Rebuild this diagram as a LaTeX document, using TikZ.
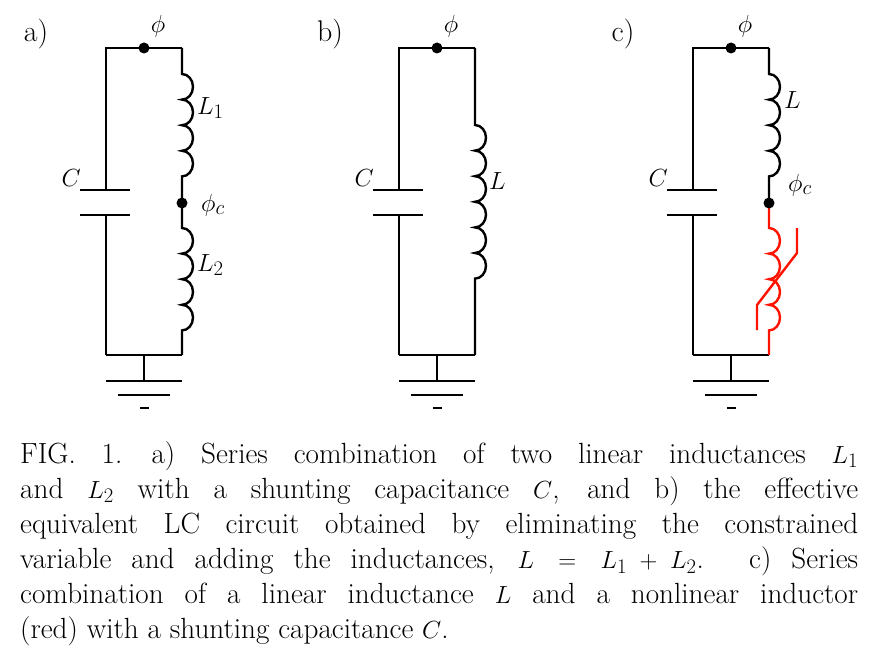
\documentclass[tikz,border=0pt]{standalone}
\begin{document}
\begin{tikzpicture}[x=1bp,y=-1bp,
  wire/.style={line width=2.4bp},
  dot/.style={circle,fill,inner sep=0pt,minimum size=11bp},
  lab/.style={font=\fontsize{30}{34}\selectfont,inner sep=1bp}]
\useasboundingbox (0,0) rectangle (872,668);
% generic circuit
\foreach \ox/\nm in {0/a,293/b,587/c}{
  \begin{scope}[xshift=\ox bp]
  \coordinate (tl\nm) at (106,48); \coordinate (tr\nm) at (182,48);
  \coordinate (bl\nm) at (106,355); \coordinate (br\nm) at (182,355);
  \coordinate (g\nm) at (144,355);
  \node[dot] (top\nm) at (144,48) {};
  \node[lab] (phi\nm) at (158,26) {$\phi$};
  \draw[wire] (bl\nm) -- (106,215) (106,190) -- (tl\nm) -- (tr\nm);
  \draw[wire] (80,190) -- (130,190) (80,215) -- (130,215);
  \node[lab,anchor=east] (C\nm) at (82,178) {$C$};
  \draw[wire] (bl\nm) -- (br\nm);
  \draw[wire] (g\nm) -- (144,381) (106,381) -- (182,381) (118,395) -- (170,395) (140,408) -- (149,408);
  \end{scope}}
\node[lab] (la) at (36,34) {a)};
\node[lab] (lb) at (330,34) {b)};
\node[lab] (lc) at (623,34) {c)};
% a
\draw[wire] (tra) -- (182,74)
  \foreach \i in {1,...,4}{arc[start angle=90,end angle=-90,x radius=11bp,y radius=12.8bp]} -- (182,228)
  \foreach \i in {1,...,4}{arc[start angle=90,end angle=-90,x radius=11bp,y radius=12.8bp]} -- (bra);
\node[dot] (pca) at (182,203) {};
\node[lab,anchor=west] at (196,108) {$L_1$};
\node[lab,anchor=west] at (200,205) {$\phi_c$};
\node[lab,anchor=west] at (196,265) {$L_2$};
% b
\draw[wire] (trb) -- (475,125)
  \foreach \i in {1,...,6}{arc[start angle=90,end angle=-90,x radius=11bp,y radius=12.8bp]} -- (brb);
\node[lab,anchor=west] at (488,181) {$L$};
% c
\draw[wire] (trc) -- (769,74)
  \foreach \i in {1,...,4}{arc[start angle=90,end angle=-90,x radius=11bp,y radius=12.8bp]} -- (769,203);
\draw[wire,red!85!orange] (769,203) -- (769,228)
  \foreach \i in {1,...,4}{arc[start angle=90,end angle=-90,x radius=11bp,y radius=12.8bp]} -- (brc);
\draw[wire,red!85!orange] (757,330) -- (757,305) -- (797,253) -- (797,228);
\node[dot] (pcc) at (769,203) {};
\node[lab,anchor=west] at (783,100) {$L$};
\node[lab,anchor=west] at (787,185) {$\phi_c$};
% caption
\node[anchor=north west,text width=838bp,align=justify,inner sep=0pt,
  font=\fontsize{29.3}{35.2}\selectfont] (cap) at (20,441)
{\hyphenpenalty=10000 FIG. 1.\quad a) Series combination of two linear inductances $L_1$\linebreak and $L_2$ with a shunting capacitance $C$, and b) the effective\linebreak equivalent LC circuit obtained by eliminating the constrained\linebreak variable and adding the inductances, $L=L_1+L_2$. c) Series\linebreak combination of a linear inductance $L$ and a nonlinear inductor\linebreak (red) with a shunting capacitance $C$.};
\end{tikzpicture}
\end{document}
